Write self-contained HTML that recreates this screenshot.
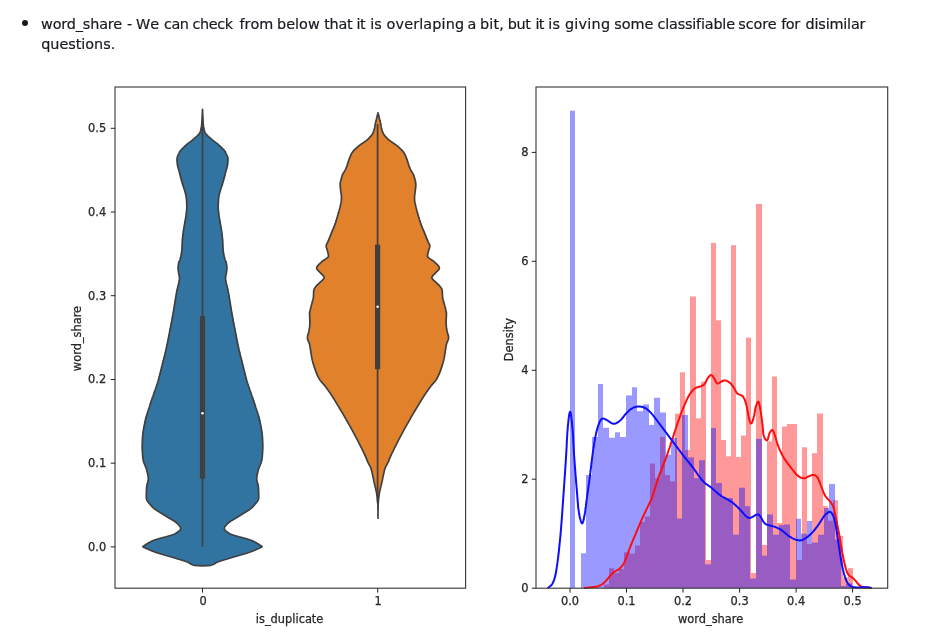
<!DOCTYPE html>
<html lang="en"><head><meta charset="utf-8"><title>word_share</title>
<style>
html,body{margin:0;padding:0;background:#fff;}
body{width:942px;height:639px;position:relative;overflow:hidden;font-family:"DejaVu Sans","Liberation Sans",sans-serif;font-size:14.4px;line-height:20px;color:#171b21;-webkit-text-stroke:0.2px #171b21;}
ul{margin:0;padding:0;list-style:none;position:absolute;left:0;top:0;width:942px;}
li{position:absolute;left:41.8px;top:13.5px;width:880px;height:40px;}
li:before{content:"";position:absolute;left:-19.9px;top:6.7px;width:6px;height:6px;border-radius:50%;background:#171b21;}
.l{position:absolute;left:0;height:20px;width:880px;white-space:nowrap;}
.w{position:absolute;top:0;white-space:nowrap;}
svg text{stroke:#262626;stroke-width:0.25px;}
</style></head><body>
<ul><li><div class="l" style="top:0"><span class="w" id="w0" style="left:-0.80px;letter-spacing:-0.144px">word_share</span> <span class="w" id="w1" style="left:85.20px;letter-spacing:0.000px">-</span> <span class="w" id="w2" style="left:94.20px;letter-spacing:1.000px">We</span> <span class="w" id="w3" style="left:122.20px;letter-spacing:-0.500px">can</span> <span class="w" id="w4" style="left:150.80px;letter-spacing:-0.400px">check</span> <span class="w" id="w5" style="left:197.60px;letter-spacing:0.167px">from</span> <span class="w" id="w6" style="left:235.20px;letter-spacing:0.050px">below</span> <span class="w" id="w7" style="left:282.40px;letter-spacing:-0.233px">that</span> <span class="w" id="w8" style="left:314.80px;letter-spacing:-0.600px">it</span> <span class="w" id="w9" style="left:328.40px;letter-spacing:0.100px">is</span> <span class="w" id="w10" style="left:344.80px;letter-spacing:0.133px">overlaping</span> <span class="w" id="w11" style="left:425.80px;letter-spacing:0.000px">a</span> <span class="w" id="w12" style="left:438.20px;letter-spacing:0.133px">bit,</span> <span class="w" id="w13" style="left:466.00px;letter-spacing:-0.350px">but</span> <span class="w" id="w14" style="left:493.60px;letter-spacing:-0.600px">it</span> <span class="w" id="w15" style="left:506.40px;letter-spacing:0.200px">is</span> <span class="w" id="w16" style="left:523.20px;letter-spacing:0.240px">giving</span> <span class="w" id="w17" style="left:572.40px;letter-spacing:0.033px">some</span> <span class="w" id="w18" style="left:615.80px;letter-spacing:-0.200px">classifiable</span> <span class="w" id="w19" style="left:696.40px;letter-spacing:-0.050px">score</span> <span class="w" id="w20" style="left:739.40px;letter-spacing:-0.400px">for</span> <span class="w" id="w21" style="left:763.80px;letter-spacing:-0.188px">disimilar</span></div><div class="l" style="top:20px"><span class="w" id="wq" style="left:-0.60px;letter-spacing:-0.022px">questions.</span></div></li></ul>
<svg class="fig" width="942" height="639" viewBox="0 0 942 639" style="position:absolute;left:0;top:0;filter:blur(0.45px);font-family:'DejaVu Sans','Liberation Sans',sans-serif;font-size:11.4px" fill="#262626"><path d="M202.5,109.3 L202.5,110.0 L202.6,110.8 L202.6,111.5 L202.6,112.3 L202.7,113.0 L202.7,113.8 L202.7,114.5 L202.8,115.3 L202.8,116.0 L202.8,116.8 L202.9,117.5 L202.9,118.3 L203.0,119.0 L203.0,119.8 L203.0,120.5 L203.1,121.3 L203.1,122.0 L203.2,122.8 L203.2,123.5 L203.3,124.3 L203.4,125.0 L203.4,125.8 L203.5,126.5 L203.6,127.3 L203.8,128.1 L203.9,128.8 L204.1,129.6 L204.3,130.3 L204.6,131.1 L204.8,131.8 L205.1,132.6 L205.5,133.3 L206.1,134.1 L206.8,134.8 L207.5,135.6 L208.3,136.3 L209.2,137.1 L210.1,137.8 L210.9,138.6 L211.7,139.3 L212.6,140.1 L213.5,140.8 L214.5,141.6 L215.5,142.3 L216.5,143.1 L217.5,143.8 L218.4,144.6 L219.3,145.3 L220.1,146.1 L220.8,146.8 L221.6,147.6 L222.3,148.3 L223.1,149.1 L223.8,149.8 L224.4,150.6 L225.0,151.3 L225.5,152.1 L225.8,152.8 L226.2,153.6 L226.6,154.3 L226.9,155.1 L227.2,155.8 L227.5,156.6 L227.7,157.3 L227.9,158.1 L228.0,158.8 L228.0,159.6 L228.0,160.3 L227.9,161.1 L227.9,161.8 L227.8,162.6 L227.7,163.3 L227.7,164.1 L227.6,164.8 L227.4,165.6 L227.3,166.3 L227.1,167.1 L226.9,167.8 L226.7,168.6 L226.5,169.3 L226.2,170.1 L226.0,170.8 L225.8,171.6 L225.6,172.3 L225.4,173.1 L225.3,173.8 L225.1,174.6 L224.9,175.3 L224.7,176.1 L224.5,176.8 L224.3,177.6 L224.1,178.3 L223.9,179.1 L223.7,179.8 L223.5,180.6 L223.3,181.3 L223.0,182.1 L222.8,182.8 L222.6,183.6 L222.4,184.3 L222.2,185.1 L221.9,185.8 L221.6,186.6 L221.4,187.3 L221.1,188.1 L220.9,188.8 L220.6,189.6 L220.4,190.3 L220.2,191.1 L220.0,191.8 L219.8,192.6 L219.6,193.3 L219.4,194.1 L219.2,194.8 L219.0,195.6 L218.9,196.3 L218.8,197.1 L218.7,197.8 L218.6,198.6 L218.5,199.3 L218.5,200.1 L218.4,200.8 L218.4,201.6 L218.3,202.3 L218.3,203.1 L218.3,203.8 L218.2,204.6 L218.2,205.3 L218.2,206.1 L218.2,206.8 L218.2,207.6 L218.2,208.3 L218.3,209.1 L218.3,209.8 L218.4,210.6 L218.5,211.3 L218.6,212.1 L218.7,212.8 L218.8,213.6 L218.9,214.3 L218.9,215.1 L219.0,215.8 L219.1,216.6 L219.2,217.3 L219.4,218.1 L219.5,218.8 L219.6,219.6 L219.7,220.3 L219.9,221.1 L220.0,221.8 L220.2,222.6 L220.3,223.3 L220.4,224.1 L220.5,224.8 L220.7,225.6 L220.8,226.3 L220.9,227.1 L221.1,227.8 L221.2,228.6 L221.3,229.3 L221.4,230.1 L221.6,230.8 L221.7,231.6 L221.8,232.3 L221.9,233.1 L222.0,233.8 L222.1,234.6 L222.2,235.3 L222.2,236.1 L222.3,236.8 L222.4,237.6 L222.5,238.3 L222.5,239.1 L222.6,239.8 L222.7,240.6 L222.7,241.3 L222.8,242.1 L222.8,242.8 L222.8,243.6 L222.9,244.3 L222.9,245.1 L222.9,245.8 L222.9,246.6 L223.0,247.3 L223.0,248.1 L223.1,248.8 L223.1,249.6 L223.2,250.3 L223.3,251.1 L223.3,251.8 L223.4,252.6 L223.6,253.3 L223.7,254.1 L223.8,254.8 L224.0,255.6 L224.1,256.3 L224.3,257.1 L224.5,257.8 L224.7,258.6 L224.9,259.3 L225.2,260.1 L225.6,260.8 L225.9,261.6 L226.1,262.3 L226.3,263.1 L226.4,263.8 L226.6,264.6 L226.7,265.3 L226.8,266.1 L226.9,266.8 L226.9,267.6 L226.9,268.3 L226.9,269.1 L226.8,269.8 L226.7,270.6 L226.6,271.3 L226.5,272.1 L226.4,272.8 L226.2,273.6 L226.1,274.3 L226.0,275.1 L225.8,275.8 L225.7,276.6 L225.6,277.3 L225.5,278.1 L225.5,278.8 L225.6,279.6 L225.7,280.3 L225.8,281.1 L226.0,281.8 L226.1,282.6 L226.3,283.3 L226.4,284.1 L226.6,284.8 L226.8,285.6 L227.0,286.3 L227.2,287.1 L227.4,287.8 L227.6,288.6 L227.7,289.3 L227.9,290.1 L228.1,290.8 L228.2,291.6 L228.4,292.3 L228.5,293.1 L228.6,293.8 L228.8,294.6 L228.9,295.3 L229.0,296.1 L229.2,296.8 L229.3,297.6 L229.4,298.3 L229.6,299.1 L229.7,299.8 L229.8,300.6 L229.9,301.3 L230.0,302.1 L230.2,302.8 L230.3,303.6 L230.4,304.3 L230.5,305.1 L230.6,305.8 L230.8,306.6 L230.9,307.3 L231.0,308.1 L231.1,308.8 L231.3,309.6 L231.4,310.3 L231.5,311.1 L231.6,311.8 L231.7,312.6 L231.9,313.3 L232.0,314.1 L232.1,314.8 L232.3,315.6 L232.4,316.3 L232.5,317.1 L232.7,317.8 L232.8,318.6 L233.0,319.3 L233.1,320.1 L233.2,320.8 L233.4,321.6 L233.5,322.3 L233.7,323.1 L233.8,323.8 L234.0,324.6 L234.1,325.3 L234.2,326.1 L234.4,326.8 L234.5,327.6 L234.7,328.3 L234.8,329.1 L235.0,329.8 L235.1,330.6 L235.3,331.3 L235.4,332.1 L235.5,332.8 L235.7,333.6 L235.8,334.3 L236.0,335.1 L236.1,335.8 L236.3,336.6 L236.4,337.3 L236.6,338.1 L236.7,338.8 L236.9,339.6 L237.0,340.3 L237.1,341.1 L237.3,341.8 L237.4,342.6 L237.6,343.3 L237.8,344.1 L237.9,344.8 L238.1,345.6 L238.2,346.3 L238.4,347.1 L238.6,347.8 L238.7,348.6 L238.9,349.3 L239.1,350.1 L239.2,350.8 L239.4,351.6 L239.6,352.3 L239.8,353.1 L240.0,353.8 L240.1,354.6 L240.3,355.3 L240.5,356.1 L240.7,356.8 L240.9,357.6 L241.1,358.3 L241.3,359.1 L241.5,359.8 L241.7,360.6 L241.9,361.3 L242.1,362.1 L242.2,362.8 L242.4,363.6 L242.6,364.3 L242.8,365.1 L243.0,365.8 L243.2,366.6 L243.4,367.3 L243.5,368.1 L243.7,368.8 L243.9,369.6 L244.1,370.3 L244.3,371.1 L244.5,371.8 L244.6,372.6 L244.8,373.3 L245.0,374.1 L245.2,374.8 L245.4,375.6 L245.6,376.3 L245.8,377.1 L246.0,377.8 L246.2,378.6 L246.4,379.3 L246.6,380.1 L246.8,380.8 L247.1,381.6 L247.3,382.3 L247.6,383.1 L247.8,383.8 L248.1,384.6 L248.3,385.3 L248.6,386.1 L248.8,386.8 L249.1,387.6 L249.3,388.3 L249.6,389.1 L249.8,389.8 L250.1,390.6 L250.4,391.3 L250.6,392.1 L250.9,392.8 L251.2,393.6 L251.4,394.3 L251.7,395.1 L251.9,395.8 L252.2,396.6 L252.5,397.3 L252.7,398.1 L253.0,398.8 L253.2,399.6 L253.5,400.3 L253.7,401.1 L254.0,401.8 L254.2,402.6 L254.5,403.3 L254.7,404.1 L255.0,404.8 L255.2,405.6 L255.4,406.3 L255.7,407.1 L255.9,407.8 L256.2,408.6 L256.4,409.3 L256.7,410.1 L256.9,410.8 L257.2,411.6 L257.4,412.3 L257.7,413.1 L257.9,413.8 L258.1,414.6 L258.3,415.3 L258.6,416.1 L258.8,416.8 L259.0,417.6 L259.2,418.3 L259.4,419.1 L259.5,419.8 L259.7,420.6 L259.9,421.3 L260.0,422.1 L260.2,422.8 L260.3,423.6 L260.5,424.3 L260.6,425.1 L260.8,425.8 L260.9,426.6 L261.1,427.3 L261.2,428.1 L261.4,428.8 L261.5,429.6 L261.6,430.3 L261.7,431.1 L261.8,431.8 L262.0,432.6 L262.1,433.3 L262.2,434.1 L262.2,434.8 L262.3,435.6 L262.4,436.3 L262.4,437.1 L262.5,437.8 L262.5,438.6 L262.6,439.3 L262.6,440.1 L262.6,440.8 L262.7,441.6 L262.7,442.3 L262.7,443.1 L262.8,443.8 L262.8,444.6 L262.8,445.3 L262.8,446.1 L262.8,446.8 L262.8,447.6 L262.8,448.3 L262.7,449.1 L262.7,449.8 L262.7,450.6 L262.6,451.3 L262.6,452.1 L262.6,452.8 L262.5,453.6 L262.4,454.3 L262.4,455.1 L262.3,455.8 L262.3,456.6 L262.2,457.3 L262.1,458.1 L262.0,458.8 L261.9,459.6 L261.7,460.3 L261.6,461.1 L261.4,461.8 L261.1,462.6 L260.8,463.3 L260.5,464.1 L260.2,464.8 L259.9,465.6 L259.6,466.3 L259.3,467.1 L259.0,467.8 L258.7,468.6 L258.5,469.3 L258.3,470.1 L258.1,470.8 L257.9,471.6 L257.7,472.3 L257.6,473.1 L257.4,473.8 L257.2,474.6 L257.1,475.3 L256.9,476.1 L256.8,476.8 L256.8,477.6 L256.7,478.3 L256.7,479.1 L256.8,479.8 L256.9,480.6 L257.0,481.3 L257.2,482.1 L257.4,482.8 L257.6,483.6 L257.8,484.3 L258.0,485.1 L258.2,485.8 L258.3,486.6 L258.4,487.3 L258.5,488.1 L258.5,488.8 L258.5,489.6 L258.6,490.3 L258.6,491.1 L258.6,491.8 L258.6,492.6 L258.7,493.3 L258.7,494.1 L258.7,494.8 L258.7,495.6 L258.7,496.3 L258.7,497.1 L258.7,497.8 L258.6,498.6 L258.4,499.3 L258.1,500.1 L257.7,500.8 L257.2,501.6 L256.7,502.3 L256.1,503.1 L255.4,503.8 L254.8,504.6 L254.1,505.3 L253.4,506.1 L252.7,506.8 L252.0,507.6 L251.1,508.3 L250.2,509.1 L249.2,509.8 L248.1,510.6 L246.9,511.3 L245.7,512.0 L244.5,512.8 L243.3,513.5 L242.1,514.3 L240.8,515.0 L239.7,515.8 L238.5,516.5 L237.3,517.3 L236.1,518.0 L234.8,518.8 L233.4,519.5 L232.2,520.3 L230.9,521.0 L229.8,521.8 L228.8,522.5 L227.9,523.3 L227.2,524.0 L226.5,524.8 L225.8,525.5 L225.2,526.3 L224.7,527.0 L224.4,527.8 L224.3,528.5 L224.5,529.3 L225.0,530.0 L225.7,530.8 L226.6,531.5 L227.5,532.3 L228.6,533.0 L229.8,533.8 L231.6,534.5 L233.8,535.3 L236.3,536.0 L239.1,536.8 L241.9,537.5 L244.7,538.3 L247.3,539.0 L249.7,539.8 L251.7,540.5 L253.4,541.3 L254.8,542.0 L256.2,542.8 L257.4,543.5 L258.6,544.3 L259.7,545.0 L260.9,545.8 L262.0,546.5 L261.6,547.3 L259.7,548.0 L258.0,548.8 L256.4,549.5 L254.7,550.3 L252.9,551.0 L250.9,551.8 L248.8,552.5 L246.6,553.3 L244.1,554.0 L241.5,554.8 L238.9,555.5 L236.3,556.3 L233.7,557.0 L231.3,557.8 L228.8,558.5 L226.3,559.3 L223.7,560.0 L221.3,560.8 L219.1,561.5 L217.0,562.3 L215.6,563.0 L214.6,563.8 L213.3,564.5 L210.9,565.3 L202.5,565.9 L202.5,565.9 L194.1,565.3 L191.7,564.5 L190.4,563.8 L189.4,563.0 L188.0,562.3 L185.9,561.5 L183.7,560.8 L181.3,560.0 L178.7,559.3 L176.2,558.5 L173.7,557.8 L171.3,557.0 L168.7,556.3 L166.1,555.5 L163.5,554.8 L160.9,554.0 L158.4,553.3 L156.2,552.5 L154.1,551.8 L152.1,551.0 L150.3,550.3 L148.6,549.5 L147.0,548.8 L145.3,548.0 L143.4,547.3 L143.0,546.5 L144.1,545.8 L145.3,545.0 L146.4,544.3 L147.6,543.5 L148.8,542.8 L150.2,542.0 L151.6,541.3 L153.3,540.5 L155.3,539.8 L157.7,539.0 L160.3,538.3 L163.1,537.5 L165.9,536.8 L168.7,536.0 L171.2,535.3 L173.4,534.5 L175.2,533.8 L176.4,533.0 L177.5,532.3 L178.4,531.5 L179.3,530.8 L180.0,530.0 L180.5,529.3 L180.7,528.5 L180.6,527.8 L180.3,527.0 L179.8,526.3 L179.2,525.5 L178.5,524.8 L177.8,524.0 L177.1,523.3 L176.2,522.5 L175.2,521.8 L174.1,521.0 L172.8,520.3 L171.6,519.5 L170.2,518.8 L168.9,518.0 L167.7,517.3 L166.5,516.5 L165.3,515.8 L164.2,515.0 L162.9,514.3 L161.7,513.5 L160.5,512.8 L159.3,512.0 L158.1,511.3 L156.9,510.6 L155.8,509.8 L154.8,509.1 L153.9,508.3 L153.0,507.6 L152.3,506.8 L151.6,506.1 L150.9,505.3 L150.2,504.6 L149.6,503.8 L148.9,503.1 L148.3,502.3 L147.8,501.6 L147.3,500.8 L146.9,500.1 L146.6,499.3 L146.4,498.6 L146.3,497.8 L146.3,497.1 L146.3,496.3 L146.3,495.6 L146.3,494.8 L146.3,494.1 L146.3,493.3 L146.4,492.6 L146.4,491.8 L146.4,491.1 L146.4,490.3 L146.5,489.6 L146.5,488.8 L146.5,488.1 L146.6,487.3 L146.7,486.6 L146.8,485.8 L147.0,485.1 L147.2,484.3 L147.4,483.6 L147.6,482.8 L147.8,482.1 L148.0,481.3 L148.1,480.6 L148.2,479.8 L148.3,479.1 L148.3,478.3 L148.2,477.6 L148.2,476.8 L148.1,476.1 L147.9,475.3 L147.8,474.6 L147.6,473.8 L147.4,473.1 L147.3,472.3 L147.1,471.6 L146.9,470.8 L146.7,470.1 L146.5,469.3 L146.3,468.6 L146.0,467.8 L145.7,467.1 L145.4,466.3 L145.1,465.6 L144.8,464.8 L144.5,464.1 L144.2,463.3 L143.9,462.6 L143.6,461.8 L143.4,461.1 L143.3,460.3 L143.1,459.6 L143.0,458.8 L142.9,458.1 L142.8,457.3 L142.7,456.6 L142.7,455.8 L142.6,455.1 L142.6,454.3 L142.5,453.6 L142.4,452.8 L142.4,452.1 L142.4,451.3 L142.3,450.6 L142.3,449.8 L142.3,449.1 L142.2,448.3 L142.2,447.6 L142.2,446.8 L142.2,446.1 L142.2,445.3 L142.2,444.6 L142.2,443.8 L142.3,443.1 L142.3,442.3 L142.3,441.6 L142.4,440.8 L142.4,440.1 L142.4,439.3 L142.5,438.6 L142.5,437.8 L142.6,437.1 L142.6,436.3 L142.7,435.6 L142.8,434.8 L142.8,434.1 L142.9,433.3 L143.0,432.6 L143.2,431.8 L143.3,431.1 L143.4,430.3 L143.5,429.6 L143.6,428.8 L143.8,428.1 L143.9,427.3 L144.1,426.6 L144.2,425.8 L144.4,425.1 L144.5,424.3 L144.7,423.6 L144.8,422.8 L145.0,422.1 L145.1,421.3 L145.3,420.6 L145.5,419.8 L145.6,419.1 L145.8,418.3 L146.0,417.6 L146.2,416.8 L146.4,416.1 L146.7,415.3 L146.9,414.6 L147.1,413.8 L147.3,413.1 L147.6,412.3 L147.8,411.6 L148.1,410.8 L148.3,410.1 L148.6,409.3 L148.8,408.6 L149.1,407.8 L149.3,407.1 L149.6,406.3 L149.8,405.6 L150.0,404.8 L150.3,404.1 L150.5,403.3 L150.8,402.6 L151.0,401.8 L151.3,401.1 L151.5,400.3 L151.8,399.6 L152.0,398.8 L152.3,398.1 L152.5,397.3 L152.8,396.6 L153.1,395.8 L153.3,395.1 L153.6,394.3 L153.8,393.6 L154.1,392.8 L154.4,392.1 L154.6,391.3 L154.9,390.6 L155.2,389.8 L155.4,389.1 L155.7,388.3 L155.9,387.6 L156.2,386.8 L156.4,386.1 L156.7,385.3 L156.9,384.6 L157.2,383.8 L157.4,383.1 L157.7,382.3 L157.9,381.6 L158.2,380.8 L158.4,380.1 L158.6,379.3 L158.8,378.6 L159.0,377.8 L159.2,377.1 L159.4,376.3 L159.6,375.6 L159.8,374.8 L160.0,374.1 L160.2,373.3 L160.4,372.6 L160.5,371.8 L160.7,371.1 L160.9,370.3 L161.1,369.6 L161.3,368.8 L161.5,368.1 L161.6,367.3 L161.8,366.6 L162.0,365.8 L162.2,365.1 L162.4,364.3 L162.6,363.6 L162.8,362.8 L162.9,362.1 L163.1,361.3 L163.3,360.6 L163.5,359.8 L163.7,359.1 L163.9,358.3 L164.1,357.6 L164.3,356.8 L164.5,356.1 L164.7,355.3 L164.9,354.6 L165.0,353.8 L165.2,353.1 L165.4,352.3 L165.6,351.6 L165.8,350.8 L165.9,350.1 L166.1,349.3 L166.3,348.6 L166.4,347.8 L166.6,347.1 L166.8,346.3 L166.9,345.6 L167.1,344.8 L167.2,344.1 L167.4,343.3 L167.6,342.6 L167.7,341.8 L167.9,341.1 L168.0,340.3 L168.1,339.6 L168.3,338.8 L168.4,338.1 L168.6,337.3 L168.7,336.6 L168.9,335.8 L169.0,335.1 L169.2,334.3 L169.3,333.6 L169.5,332.8 L169.6,332.1 L169.7,331.3 L169.9,330.6 L170.0,329.8 L170.2,329.1 L170.3,328.3 L170.5,327.6 L170.6,326.8 L170.8,326.1 L170.9,325.3 L171.0,324.6 L171.2,323.8 L171.3,323.1 L171.5,322.3 L171.6,321.6 L171.8,320.8 L171.9,320.1 L172.0,319.3 L172.2,318.6 L172.3,317.8 L172.5,317.1 L172.6,316.3 L172.7,315.6 L172.9,314.8 L173.0,314.1 L173.1,313.3 L173.3,312.6 L173.4,311.8 L173.5,311.1 L173.6,310.3 L173.7,309.6 L173.9,308.8 L174.0,308.1 L174.1,307.3 L174.2,306.6 L174.4,305.8 L174.5,305.1 L174.6,304.3 L174.7,303.6 L174.8,302.8 L175.0,302.1 L175.1,301.3 L175.2,300.6 L175.3,299.8 L175.4,299.1 L175.6,298.3 L175.7,297.6 L175.8,296.8 L176.0,296.1 L176.1,295.3 L176.2,294.6 L176.4,293.8 L176.5,293.1 L176.6,292.3 L176.8,291.6 L176.9,290.8 L177.1,290.1 L177.3,289.3 L177.4,288.6 L177.6,287.8 L177.8,287.1 L178.0,286.3 L178.2,285.6 L178.4,284.8 L178.6,284.1 L178.7,283.3 L178.9,282.6 L179.0,281.8 L179.2,281.1 L179.3,280.3 L179.4,279.6 L179.5,278.8 L179.5,278.1 L179.4,277.3 L179.3,276.6 L179.2,275.8 L179.0,275.1 L178.9,274.3 L178.8,273.6 L178.6,272.8 L178.5,272.1 L178.4,271.3 L178.3,270.6 L178.2,269.8 L178.1,269.1 L178.1,268.3 L178.1,267.6 L178.1,266.8 L178.2,266.1 L178.3,265.3 L178.4,264.6 L178.6,263.8 L178.7,263.1 L178.9,262.3 L179.1,261.6 L179.4,260.8 L179.8,260.1 L180.1,259.3 L180.3,258.6 L180.5,257.8 L180.7,257.1 L180.9,256.3 L181.0,255.6 L181.2,254.8 L181.3,254.1 L181.4,253.3 L181.6,252.6 L181.7,251.8 L181.7,251.1 L181.8,250.3 L181.9,249.6 L181.9,248.8 L182.0,248.1 L182.0,247.3 L182.1,246.6 L182.1,245.8 L182.1,245.1 L182.1,244.3 L182.2,243.6 L182.2,242.8 L182.2,242.1 L182.3,241.3 L182.3,240.6 L182.4,239.8 L182.5,239.1 L182.5,238.3 L182.6,237.6 L182.7,236.8 L182.8,236.1 L182.8,235.3 L182.9,234.6 L183.0,233.8 L183.1,233.1 L183.2,232.3 L183.3,231.6 L183.4,230.8 L183.6,230.1 L183.7,229.3 L183.8,228.6 L183.9,227.8 L184.1,227.1 L184.2,226.3 L184.3,225.6 L184.5,224.8 L184.6,224.1 L184.7,223.3 L184.8,222.6 L185.0,221.8 L185.1,221.1 L185.3,220.3 L185.4,219.6 L185.5,218.8 L185.6,218.1 L185.8,217.3 L185.9,216.6 L186.0,215.8 L186.1,215.1 L186.1,214.3 L186.2,213.6 L186.3,212.8 L186.4,212.1 L186.5,211.3 L186.6,210.6 L186.7,209.8 L186.7,209.1 L186.8,208.3 L186.8,207.6 L186.8,206.8 L186.8,206.1 L186.8,205.3 L186.8,204.6 L186.7,203.8 L186.7,203.1 L186.7,202.3 L186.6,201.6 L186.6,200.8 L186.5,200.1 L186.5,199.3 L186.4,198.6 L186.3,197.8 L186.2,197.1 L186.1,196.3 L186.0,195.6 L185.8,194.8 L185.6,194.1 L185.4,193.3 L185.2,192.6 L185.0,191.8 L184.8,191.1 L184.6,190.3 L184.4,189.6 L184.1,188.8 L183.9,188.1 L183.6,187.3 L183.4,186.6 L183.1,185.8 L182.8,185.1 L182.6,184.3 L182.4,183.6 L182.2,182.8 L182.0,182.1 L181.7,181.3 L181.5,180.6 L181.3,179.8 L181.1,179.1 L180.9,178.3 L180.7,177.6 L180.5,176.8 L180.3,176.1 L180.1,175.3 L179.9,174.6 L179.7,173.8 L179.6,173.1 L179.4,172.3 L179.2,171.6 L179.0,170.8 L178.8,170.1 L178.5,169.3 L178.3,168.6 L178.1,167.8 L177.9,167.1 L177.7,166.3 L177.6,165.6 L177.4,164.8 L177.3,164.1 L177.3,163.3 L177.2,162.6 L177.1,161.8 L177.1,161.1 L177.0,160.3 L177.0,159.6 L177.0,158.8 L177.1,158.1 L177.3,157.3 L177.5,156.6 L177.8,155.8 L178.1,155.1 L178.4,154.3 L178.8,153.6 L179.2,152.8 L179.5,152.1 L180.0,151.3 L180.6,150.6 L181.2,149.8 L181.9,149.1 L182.7,148.3 L183.4,147.6 L184.2,146.8 L184.9,146.1 L185.7,145.3 L186.6,144.6 L187.5,143.8 L188.5,143.1 L189.5,142.3 L190.5,141.6 L191.5,140.8 L192.4,140.1 L193.3,139.3 L194.1,138.6 L194.9,137.8 L195.8,137.1 L196.7,136.3 L197.5,135.6 L198.2,134.8 L198.9,134.1 L199.5,133.3 L199.9,132.6 L200.2,131.8 L200.4,131.1 L200.7,130.3 L200.9,129.6 L201.1,128.8 L201.2,128.1 L201.4,127.3 L201.5,126.5 L201.6,125.8 L201.6,125.0 L201.7,124.3 L201.8,123.5 L201.8,122.8 L201.9,122.0 L201.9,121.3 L202.0,120.5 L202.0,119.8 L202.0,119.0 L202.1,118.3 L202.1,117.5 L202.2,116.8 L202.2,116.0 L202.2,115.3 L202.3,114.5 L202.3,113.8 L202.3,113.0 L202.4,112.3 L202.4,111.5 L202.4,110.8 L202.5,110.0 L202.5,109.3Z" fill="#3274a1" stroke="#3f3f3f" stroke-width="1.7" stroke-linejoin="round"/><path d="M378.0,112.7 L378.2,113.5 L378.4,114.2 L378.6,115.0 L378.8,115.7 L378.9,116.5 L379.1,117.2 L379.3,118.0 L379.5,118.7 L379.7,119.5 L379.9,120.2 L380.0,121.0 L380.2,121.7 L380.4,122.5 L380.6,123.2 L380.7,124.0 L380.9,124.7 L381.0,125.5 L381.1,126.2 L381.3,127.0 L381.4,127.7 L381.6,128.4 L381.8,129.2 L382.0,129.9 L382.2,130.7 L382.4,131.4 L382.7,132.2 L383.0,132.9 L383.4,133.7 L383.9,134.4 L384.4,135.2 L385.0,135.9 L385.6,136.7 L386.3,137.4 L387.0,138.2 L387.8,138.9 L388.5,139.7 L389.5,140.4 L390.5,141.2 L391.6,141.9 L392.7,142.7 L393.8,143.4 L394.9,144.2 L395.9,144.9 L396.9,145.7 L397.7,146.4 L398.6,147.2 L399.5,147.9 L400.3,148.7 L401.1,149.4 L401.9,150.2 L402.6,150.9 L403.2,151.7 L403.7,152.4 L404.2,153.2 L404.6,153.9 L405.0,154.7 L405.3,155.4 L405.7,156.2 L406.0,156.9 L406.3,157.7 L406.5,158.4 L406.8,159.2 L407.1,159.9 L407.4,160.7 L407.6,161.4 L407.9,162.2 L408.1,162.9 L408.3,163.7 L408.6,164.4 L408.8,165.2 L409.0,165.9 L409.3,166.7 L409.6,167.4 L409.9,168.2 L410.2,168.9 L410.6,169.7 L411.0,170.4 L411.5,171.2 L411.9,171.9 L412.4,172.7 L412.8,173.4 L413.2,174.2 L413.6,174.9 L413.9,175.7 L414.1,176.4 L414.3,177.2 L414.5,177.9 L414.8,178.7 L415.0,179.4 L415.1,180.2 L415.3,180.9 L415.5,181.7 L415.6,182.4 L415.7,183.2 L415.8,183.9 L415.8,184.7 L415.8,185.4 L415.8,186.2 L415.7,186.9 L415.6,187.7 L415.6,188.4 L415.5,189.2 L415.4,189.9 L415.3,190.7 L415.2,191.4 L415.1,192.2 L415.0,192.9 L414.9,193.7 L414.8,194.4 L414.7,195.2 L414.6,195.9 L414.6,196.7 L414.5,197.4 L414.5,198.2 L414.5,198.9 L414.6,199.7 L414.6,200.4 L414.7,201.2 L414.9,201.9 L415.0,202.7 L415.2,203.4 L415.3,204.2 L415.5,204.9 L415.7,205.7 L415.9,206.4 L416.0,207.2 L416.2,207.9 L416.4,208.7 L416.6,209.4 L416.8,210.2 L417.0,210.9 L417.2,211.7 L417.4,212.4 L417.6,213.2 L417.9,213.9 L418.1,214.7 L418.3,215.4 L418.5,216.2 L418.7,216.9 L418.9,217.7 L419.2,218.4 L419.4,219.2 L419.6,219.9 L419.8,220.7 L420.1,221.4 L420.3,222.2 L420.5,222.9 L420.8,223.7 L421.1,224.4 L421.3,225.2 L421.6,225.9 L421.9,226.7 L422.2,227.4 L422.5,228.2 L422.8,228.9 L423.1,229.7 L423.5,230.4 L423.8,231.2 L424.1,231.9 L424.4,232.7 L424.7,233.4 L425.0,234.2 L425.3,234.9 L425.6,235.7 L425.9,236.4 L426.2,237.2 L426.5,237.9 L426.8,238.7 L427.1,239.4 L427.4,240.2 L427.7,240.9 L428.0,241.7 L428.4,242.4 L428.8,243.2 L429.2,243.9 L429.6,244.7 L429.8,245.4 L429.8,246.2 L429.7,246.9 L429.5,247.7 L429.3,248.4 L429.0,249.2 L428.8,249.9 L428.6,250.7 L428.4,251.4 L428.2,252.2 L428.0,252.9 L427.8,253.7 L427.7,254.4 L427.6,255.2 L427.5,255.9 L427.6,256.7 L428.2,257.4 L429.1,258.2 L430.2,258.9 L431.4,259.7 L432.6,260.4 L433.5,261.2 L434.3,261.9 L435.1,262.7 L436.0,263.4 L436.8,264.2 L437.6,264.9 L438.3,265.7 L438.8,266.4 L439.2,267.2 L439.4,267.9 L439.3,268.7 L438.9,269.4 L438.3,270.2 L437.5,270.9 L436.8,271.7 L436.0,272.4 L435.3,273.2 L434.6,273.9 L433.8,274.7 L433.1,275.4 L432.4,276.2 L432.0,276.9 L431.9,277.7 L432.1,278.4 L432.6,279.2 L433.3,279.9 L434.0,280.7 L434.9,281.4 L435.8,282.2 L436.6,282.9 L437.3,283.7 L438.1,284.4 L438.9,285.2 L439.6,285.9 L440.3,286.7 L440.8,287.4 L441.3,288.2 L441.8,288.9 L442.1,289.7 L442.2,290.4 L442.3,291.2 L442.3,291.9 L442.4,292.7 L442.4,293.4 L442.4,294.2 L442.5,294.9 L442.5,295.7 L442.6,296.4 L442.6,297.2 L442.7,297.9 L442.9,298.7 L443.0,299.4 L443.2,300.2 L443.4,300.9 L443.6,301.7 L443.9,302.4 L444.1,303.2 L444.3,303.9 L444.5,304.7 L444.7,305.4 L444.9,306.2 L445.1,306.9 L445.2,307.7 L445.5,308.4 L445.6,309.2 L445.8,309.9 L446.0,310.7 L446.2,311.4 L446.3,312.2 L446.4,312.9 L446.4,313.7 L446.4,314.4 L446.4,315.2 L446.4,315.9 L446.3,316.7 L446.3,317.4 L446.3,318.2 L446.2,318.9 L446.2,319.7 L446.1,320.4 L446.1,321.2 L446.1,321.9 L446.1,322.7 L446.1,323.4 L446.2,324.2 L446.2,324.9 L446.3,325.7 L446.4,326.4 L446.4,327.2 L446.5,327.9 L446.7,328.7 L446.8,329.4 L446.9,330.2 L447.0,330.9 L447.1,331.7 L447.3,332.4 L447.6,333.2 L447.8,333.9 L448.0,334.7 L448.3,335.4 L448.4,336.2 L448.6,336.9 L448.6,337.7 L448.5,338.4 L448.4,339.2 L448.1,339.9 L447.9,340.7 L447.5,341.4 L447.2,342.2 L446.9,342.9 L446.6,343.7 L446.4,344.4 L446.3,345.2 L446.1,345.9 L446.0,346.7 L445.9,347.4 L445.8,348.2 L445.7,348.9 L445.5,349.7 L445.4,350.4 L445.3,351.2 L445.2,351.9 L445.1,352.7 L444.9,353.4 L444.8,354.2 L444.7,354.9 L444.6,355.7 L444.5,356.4 L444.3,357.2 L444.2,357.9 L444.0,358.7 L443.9,359.4 L443.7,360.2 L443.5,360.9 L443.3,361.7 L443.1,362.4 L442.9,363.2 L442.7,363.9 L442.5,364.7 L442.2,365.4 L442.0,366.2 L441.8,366.9 L441.5,367.7 L441.2,368.4 L441.0,369.2 L440.7,369.9 L440.5,370.7 L440.2,371.4 L439.9,372.2 L439.6,372.9 L439.3,373.7 L439.0,374.4 L438.7,375.2 L438.3,375.9 L437.9,376.7 L437.6,377.4 L437.2,378.2 L436.7,378.9 L436.2,379.7 L435.7,380.4 L435.1,381.2 L434.5,381.9 L433.8,382.7 L433.2,383.4 L432.5,384.2 L431.9,384.9 L431.2,385.7 L430.6,386.4 L430.1,387.2 L429.5,387.9 L429.0,388.7 L428.4,389.4 L427.9,390.2 L427.4,390.9 L426.8,391.7 L426.3,392.4 L425.8,393.2 L425.3,393.9 L424.8,394.7 L424.3,395.4 L423.8,396.2 L423.4,396.9 L422.9,397.7 L422.4,398.4 L421.9,399.2 L421.5,399.9 L421.0,400.7 L420.6,401.4 L420.1,402.2 L419.6,402.9 L419.2,403.7 L418.7,404.4 L418.3,405.2 L417.8,405.9 L417.4,406.7 L416.9,407.4 L416.5,408.2 L416.0,408.9 L415.6,409.7 L415.1,410.4 L414.7,411.2 L414.2,411.9 L413.8,412.7 L413.3,413.4 L412.9,414.2 L412.5,414.9 L412.0,415.7 L411.6,416.4 L411.2,417.2 L410.7,417.9 L410.3,418.7 L409.9,419.4 L409.5,420.2 L409.0,420.9 L408.6,421.7 L408.2,422.4 L407.8,423.2 L407.3,423.9 L406.9,424.7 L406.5,425.4 L406.1,426.2 L405.7,426.9 L405.2,427.7 L404.8,428.4 L404.4,429.2 L404.0,429.9 L403.6,430.7 L403.2,431.4 L402.8,432.2 L402.4,432.9 L402.0,433.7 L401.6,434.4 L401.2,435.2 L400.8,435.9 L400.4,436.7 L400.0,437.4 L399.6,438.2 L399.2,438.9 L398.8,439.7 L398.4,440.4 L398.0,441.2 L397.7,441.9 L397.3,442.7 L396.9,443.4 L396.5,444.2 L396.1,444.9 L395.8,445.7 L395.4,446.4 L395.0,447.2 L394.6,447.9 L394.2,448.7 L393.9,449.4 L393.5,450.2 L393.1,450.9 L392.8,451.7 L392.4,452.4 L392.0,453.2 L391.7,453.9 L391.3,454.7 L391.0,455.4 L390.7,456.2 L390.3,456.9 L390.0,457.7 L389.7,458.4 L389.4,459.2 L389.1,459.9 L388.8,460.7 L388.5,461.4 L388.1,462.2 L387.8,462.9 L387.4,463.7 L387.0,464.4 L386.6,465.2 L386.2,465.9 L385.8,466.7 L385.4,467.4 L385.1,468.2 L384.9,468.9 L384.6,469.7 L384.4,470.4 L384.2,471.2 L384.1,471.9 L383.9,472.7 L383.7,473.4 L383.6,474.2 L383.4,474.9 L383.2,475.7 L383.1,476.4 L382.9,477.2 L382.8,477.9 L382.6,478.7 L382.5,479.4 L382.3,480.2 L382.2,480.9 L382.0,481.7 L381.8,482.4 L381.7,483.2 L381.5,483.9 L381.3,484.7 L381.1,485.4 L380.9,486.2 L380.7,486.9 L380.6,487.7 L380.4,488.4 L380.2,489.2 L380.1,489.9 L379.9,490.7 L379.7,491.4 L379.6,492.2 L379.4,492.9 L379.3,493.7 L379.2,494.4 L379.1,495.2 L379.0,495.9 L378.9,496.7 L378.8,497.4 L378.7,498.2 L378.6,498.9 L378.5,499.7 L378.5,500.4 L378.4,501.2 L378.3,501.9 L378.3,502.7 L378.2,503.4 L378.2,504.2 L378.1,504.9 L378.1,505.7 L378.1,506.4 L378.1,507.2 L378.1,507.9 L378.1,508.7 L378.1,509.4 L378.0,510.2 L378.0,510.9 L378.0,511.7 L378.0,512.5 L378.0,513.2 L378.0,514.0 L378.0,514.7 L378.0,515.5 L378.0,516.2 L378.0,517.0 L378.0,517.7 L378.0,518.2 L378.0,518.2 L378.0,517.7 L378.0,517.0 L378.0,516.2 L378.0,515.5 L378.0,514.7 L378.0,514.0 L378.0,513.2 L378.0,512.5 L378.0,511.7 L378.0,510.9 L378.0,510.2 L377.9,509.4 L377.9,508.7 L377.9,507.9 L377.9,507.2 L377.9,506.4 L377.9,505.7 L377.9,504.9 L377.8,504.2 L377.8,503.4 L377.7,502.7 L377.7,501.9 L377.6,501.2 L377.5,500.4 L377.5,499.7 L377.4,498.9 L377.3,498.2 L377.2,497.4 L377.1,496.7 L377.0,495.9 L376.9,495.2 L376.8,494.4 L376.7,493.7 L376.6,492.9 L376.4,492.2 L376.3,491.4 L376.1,490.7 L375.9,489.9 L375.8,489.2 L375.6,488.4 L375.4,487.7 L375.3,486.9 L375.1,486.2 L374.9,485.4 L374.7,484.7 L374.5,483.9 L374.3,483.2 L374.2,482.4 L374.0,481.7 L373.8,480.9 L373.7,480.2 L373.5,479.4 L373.4,478.7 L373.2,477.9 L373.1,477.2 L372.9,476.4 L372.8,475.7 L372.6,474.9 L372.4,474.2 L372.3,473.4 L372.1,472.7 L371.9,471.9 L371.8,471.2 L371.6,470.4 L371.4,469.7 L371.1,468.9 L370.9,468.2 L370.6,467.4 L370.2,466.7 L369.8,465.9 L369.4,465.2 L369.0,464.4 L368.6,463.7 L368.2,462.9 L367.9,462.2 L367.5,461.4 L367.2,460.7 L366.9,459.9 L366.6,459.2 L366.3,458.4 L366.0,457.7 L365.7,456.9 L365.3,456.2 L365.0,455.4 L364.7,454.7 L364.3,453.9 L364.0,453.2 L363.6,452.4 L363.2,451.7 L362.9,450.9 L362.5,450.2 L362.1,449.4 L361.8,448.7 L361.4,447.9 L361.0,447.2 L360.6,446.4 L360.2,445.7 L359.9,444.9 L359.5,444.2 L359.1,443.4 L358.7,442.7 L358.3,441.9 L358.0,441.2 L357.6,440.4 L357.2,439.7 L356.8,438.9 L356.4,438.2 L356.0,437.4 L355.6,436.7 L355.2,435.9 L354.8,435.2 L354.4,434.4 L354.0,433.7 L353.6,432.9 L353.2,432.2 L352.8,431.4 L352.4,430.7 L352.0,429.9 L351.6,429.2 L351.2,428.4 L350.8,427.7 L350.3,426.9 L349.9,426.2 L349.5,425.4 L349.1,424.7 L348.7,423.9 L348.2,423.2 L347.8,422.4 L347.4,421.7 L347.0,420.9 L346.5,420.2 L346.1,419.4 L345.7,418.7 L345.3,417.9 L344.8,417.2 L344.4,416.4 L344.0,415.7 L343.5,414.9 L343.1,414.2 L342.7,413.4 L342.2,412.7 L341.8,411.9 L341.3,411.2 L340.9,410.4 L340.4,409.7 L340.0,408.9 L339.5,408.2 L339.1,407.4 L338.6,406.7 L338.2,405.9 L337.7,405.2 L337.3,404.4 L336.8,403.7 L336.4,402.9 L335.9,402.2 L335.4,401.4 L335.0,400.7 L334.5,399.9 L334.1,399.2 L333.6,398.4 L333.1,397.7 L332.6,396.9 L332.2,396.2 L331.7,395.4 L331.2,394.7 L330.7,393.9 L330.2,393.2 L329.7,392.4 L329.2,391.7 L328.6,390.9 L328.1,390.2 L327.6,389.4 L327.0,388.7 L326.5,387.9 L325.9,387.2 L325.4,386.4 L324.8,385.7 L324.1,384.9 L323.5,384.2 L322.8,383.4 L322.2,382.7 L321.5,381.9 L320.9,381.2 L320.3,380.4 L319.8,379.7 L319.3,378.9 L318.8,378.2 L318.4,377.4 L318.1,376.7 L317.7,375.9 L317.3,375.2 L317.0,374.4 L316.7,373.7 L316.4,372.9 L316.1,372.2 L315.8,371.4 L315.5,370.7 L315.3,369.9 L315.0,369.2 L314.8,368.4 L314.5,367.7 L314.2,366.9 L314.0,366.2 L313.8,365.4 L313.5,364.7 L313.3,363.9 L313.1,363.2 L312.9,362.4 L312.7,361.7 L312.5,360.9 L312.3,360.2 L312.1,359.4 L312.0,358.7 L311.8,357.9 L311.7,357.2 L311.5,356.4 L311.4,355.7 L311.3,354.9 L311.2,354.2 L311.1,353.4 L310.9,352.7 L310.8,351.9 L310.7,351.2 L310.6,350.4 L310.5,349.7 L310.3,348.9 L310.2,348.2 L310.1,347.4 L310.0,346.7 L309.9,345.9 L309.7,345.2 L309.6,344.4 L309.4,343.7 L309.1,342.9 L308.8,342.2 L308.5,341.4 L308.1,340.7 L307.9,339.9 L307.6,339.2 L307.5,338.4 L307.4,337.7 L307.4,336.9 L307.6,336.2 L307.7,335.4 L308.0,334.7 L308.2,333.9 L308.4,333.2 L308.7,332.4 L308.9,331.7 L309.0,330.9 L309.1,330.2 L309.2,329.4 L309.3,328.7 L309.5,327.9 L309.6,327.2 L309.6,326.4 L309.7,325.7 L309.8,324.9 L309.8,324.2 L309.9,323.4 L309.9,322.7 L309.9,321.9 L309.9,321.2 L309.9,320.4 L309.8,319.7 L309.8,318.9 L309.7,318.2 L309.7,317.4 L309.7,316.7 L309.6,315.9 L309.6,315.2 L309.6,314.4 L309.6,313.7 L309.6,312.9 L309.7,312.2 L309.8,311.4 L310.0,310.7 L310.2,309.9 L310.4,309.2 L310.5,308.4 L310.8,307.7 L310.9,306.9 L311.1,306.2 L311.3,305.4 L311.5,304.7 L311.7,303.9 L311.9,303.2 L312.1,302.4 L312.4,301.7 L312.6,300.9 L312.8,300.2 L313.0,299.4 L313.1,298.7 L313.3,297.9 L313.4,297.2 L313.4,296.4 L313.5,295.7 L313.5,294.9 L313.6,294.2 L313.6,293.4 L313.6,292.7 L313.7,291.9 L313.7,291.2 L313.8,290.4 L313.9,289.7 L314.2,288.9 L314.7,288.2 L315.2,287.4 L315.7,286.7 L316.4,285.9 L317.1,285.2 L317.9,284.4 L318.7,283.7 L319.4,282.9 L320.2,282.2 L321.1,281.4 L322.0,280.7 L322.7,279.9 L323.4,279.2 L323.9,278.4 L324.1,277.7 L324.0,276.9 L323.6,276.2 L322.9,275.4 L322.2,274.7 L321.4,273.9 L320.7,273.2 L320.0,272.4 L319.2,271.7 L318.5,270.9 L317.7,270.2 L317.1,269.4 L316.7,268.7 L316.6,267.9 L316.8,267.2 L317.2,266.4 L317.7,265.7 L318.4,264.9 L319.2,264.2 L320.0,263.4 L320.9,262.7 L321.7,261.9 L322.5,261.2 L323.4,260.4 L324.6,259.7 L325.8,258.9 L326.9,258.2 L327.8,257.4 L328.4,256.7 L328.5,255.9 L328.4,255.2 L328.3,254.4 L328.2,253.7 L328.0,252.9 L327.8,252.2 L327.6,251.4 L327.4,250.7 L327.2,249.9 L327.0,249.2 L326.7,248.4 L326.5,247.7 L326.3,246.9 L326.2,246.2 L326.2,245.4 L326.4,244.7 L326.8,243.9 L327.2,243.2 L327.6,242.4 L328.0,241.7 L328.3,240.9 L328.6,240.2 L328.9,239.4 L329.2,238.7 L329.5,237.9 L329.8,237.2 L330.1,236.4 L330.4,235.7 L330.7,234.9 L331.0,234.2 L331.3,233.4 L331.6,232.7 L331.9,231.9 L332.2,231.2 L332.5,230.4 L332.9,229.7 L333.2,228.9 L333.5,228.2 L333.8,227.4 L334.1,226.7 L334.4,225.9 L334.7,225.2 L334.9,224.4 L335.2,223.7 L335.5,222.9 L335.7,222.2 L335.9,221.4 L336.2,220.7 L336.4,219.9 L336.6,219.2 L336.8,218.4 L337.1,217.7 L337.3,216.9 L337.5,216.2 L337.7,215.4 L337.9,214.7 L338.1,213.9 L338.4,213.2 L338.6,212.4 L338.8,211.7 L339.0,210.9 L339.2,210.2 L339.4,209.4 L339.6,208.7 L339.8,207.9 L340.0,207.2 L340.1,206.4 L340.3,205.7 L340.5,204.9 L340.7,204.2 L340.8,203.4 L341.0,202.7 L341.1,201.9 L341.3,201.2 L341.4,200.4 L341.4,199.7 L341.5,198.9 L341.5,198.2 L341.5,197.4 L341.4,196.7 L341.4,195.9 L341.3,195.2 L341.2,194.4 L341.1,193.7 L341.0,192.9 L340.9,192.2 L340.8,191.4 L340.7,190.7 L340.6,189.9 L340.5,189.2 L340.4,188.4 L340.4,187.7 L340.3,186.9 L340.2,186.2 L340.2,185.4 L340.2,184.7 L340.2,183.9 L340.3,183.2 L340.4,182.4 L340.5,181.7 L340.7,180.9 L340.9,180.2 L341.0,179.4 L341.2,178.7 L341.5,177.9 L341.7,177.2 L341.9,176.4 L342.1,175.7 L342.4,174.9 L342.8,174.2 L343.2,173.4 L343.6,172.7 L344.1,171.9 L344.5,171.2 L345.0,170.4 L345.4,169.7 L345.8,168.9 L346.1,168.2 L346.4,167.4 L346.7,166.7 L347.0,165.9 L347.2,165.2 L347.4,164.4 L347.7,163.7 L347.9,162.9 L348.1,162.2 L348.4,161.4 L348.6,160.7 L348.9,159.9 L349.2,159.2 L349.5,158.4 L349.7,157.7 L350.0,156.9 L350.3,156.2 L350.7,155.4 L351.0,154.7 L351.4,153.9 L351.8,153.2 L352.3,152.4 L352.8,151.7 L353.4,150.9 L354.1,150.2 L354.9,149.4 L355.7,148.7 L356.5,147.9 L357.4,147.2 L358.3,146.4 L359.1,145.7 L360.1,144.9 L361.1,144.2 L362.2,143.4 L363.3,142.7 L364.4,141.9 L365.5,141.2 L366.5,140.4 L367.5,139.7 L368.2,138.9 L369.0,138.2 L369.7,137.4 L370.4,136.7 L371.0,135.9 L371.6,135.2 L372.1,134.4 L372.6,133.7 L373.0,132.9 L373.3,132.2 L373.6,131.4 L373.8,130.7 L374.0,129.9 L374.2,129.2 L374.4,128.4 L374.6,127.7 L374.7,127.0 L374.9,126.2 L375.0,125.5 L375.1,124.7 L375.3,124.0 L375.4,123.2 L375.6,122.5 L375.8,121.7 L376.0,121.0 L376.1,120.2 L376.3,119.5 L376.5,118.7 L376.7,118.0 L376.9,117.2 L377.1,116.5 L377.2,115.7 L377.4,115.0 L377.6,114.2 L377.8,113.5 L378.0,112.7Z" fill="#e1812c" stroke="#3f3f3f" stroke-width="1.7" stroke-linejoin="round"/><g stroke="#3f3f3f" stroke-linecap="butt"><line x1="202.5" y1="126" x2="202.5" y2="546.8" stroke-width="1.7"/><line x1="202.5" y1="316" x2="202.5" y2="478.8" stroke-width="5.2"/><line x1="377.6" y1="124" x2="377.6" y2="502.6" stroke-width="1.7"/><line x1="377.6" y1="244.7" x2="377.6" y2="369.2" stroke-width="5.2"/></g><circle cx="202.5" cy="413.3" r="1.3" fill="#fff"/><circle cx="377.6" cy="306.8" r="1.3" fill="#fff"/><rect x="115" y="87" width="350.6" height="501.2" fill="none" stroke="#333" stroke-width="1.1"/><g stroke="#222" stroke-width="1"><line x1="110.8" y1="546.9" x2="115" y2="546.9"/><line x1="110.8" y1="463.2" x2="115" y2="463.2"/><line x1="110.8" y1="379.5" x2="115" y2="379.5"/><line x1="110.8" y1="295.7" x2="115" y2="295.7"/><line x1="110.8" y1="212.0" x2="115" y2="212.0"/><line x1="110.8" y1="128.3" x2="115" y2="128.3"/><line x1="202.5" y1="588.2" x2="202.5" y2="592.6"/><line x1="377.7" y1="588.2" x2="377.7" y2="592.6"/></g><g text-anchor="end"><text x="106.2" y="550.8">0.0</text><text x="106.2" y="467.1">0.1</text><text x="106.2" y="383.4">0.2</text><text x="106.2" y="299.6">0.3</text><text x="106.2" y="215.9">0.4</text><text x="106.2" y="132.2">0.5</text></g><g text-anchor="middle"><text x="203" y="604.9">0</text><text x="378" y="604.9">1</text><text x="289.6" y="622.8">is_duplicate</text><text transform="translate(81.1,338.5) rotate(-90)">word_share</text></g><g fill="#ff0000" fill-opacity="0.4"><rect x="604" y="584.5" width="5" height="3.5"/><rect x="609" y="568.2" width="5" height="19.8"/><rect x="614" y="573.0" width="5" height="15.0"/><rect x="619" y="569.0" width="5" height="19.0"/><rect x="624" y="552.3" width="6" height="35.7"/><rect x="630" y="553.6" width="5" height="34.4"/><rect x="635" y="545.4" width="5" height="42.6"/><rect x="640" y="522.0" width="5" height="66.0"/><rect x="645" y="516.5" width="5" height="71.5"/><rect x="650" y="463.5" width="5" height="124.5"/><rect x="655" y="478.2" width="5" height="109.8"/><rect x="660" y="436.9" width="5" height="151.1"/><rect x="665" y="475.1" width="5" height="112.9"/><rect x="670" y="481.3" width="5" height="106.7"/><rect x="675" y="413.6" width="5" height="174.4"/><rect x="680" y="372.3" width="5" height="215.7"/><rect x="685" y="450.0" width="5" height="138.0"/><rect x="690" y="296.5" width="6" height="291.5"/><rect x="696" y="418.3" width="5" height="169.7"/><rect x="701" y="381.7" width="5" height="206.3"/><rect x="706" y="560.0" width="5" height="28.0"/><rect x="711" y="242.9" width="5" height="345.1"/><rect x="716" y="320.3" width="5" height="267.7"/><rect x="721" y="440.0" width="5" height="148.0"/><rect x="726" y="456.3" width="5" height="131.7"/><rect x="731" y="245.2" width="5" height="342.8"/><rect x="736" y="456.9" width="5" height="131.1"/><rect x="741" y="435.6" width="5" height="152.4"/><rect x="746" y="337.6" width="5" height="250.4"/><rect x="751" y="573.0" width="5" height="15.0"/><rect x="756" y="203.9" width="6" height="384.1"/><rect x="762" y="545.0" width="5" height="43.0"/><rect x="767" y="441.3" width="5" height="146.7"/><rect x="772" y="376.5" width="5" height="211.5"/><rect x="777" y="523.0" width="5" height="65.0"/><rect x="782" y="426.5" width="5" height="161.5"/><rect x="787" y="424.0" width="5" height="164.0"/><rect x="792" y="424.0" width="5" height="164.0"/><rect x="797" y="560.0" width="5" height="28.0"/><rect x="802" y="447.3" width="5" height="140.7"/><rect x="807" y="544.0" width="5" height="44.0"/><rect x="812" y="453.2" width="5" height="134.8"/><rect x="817" y="413.5" width="6" height="174.5"/><rect x="823" y="506.1" width="5" height="81.9"/><rect x="828" y="520.7" width="5" height="67.3"/><rect x="833" y="500.2" width="5" height="87.8"/><rect x="838" y="535.8" width="5" height="52.2"/><rect x="843" y="577.5" width="5" height="10.5"/><rect x="848" y="568.1" width="5" height="19.9"/></g><g fill="#0000ff" fill-opacity="0.4"><rect x="570" y="110.7" width="5" height="477.3"/><rect x="581" y="553.3" width="5" height="34.7"/><rect x="586" y="474.9" width="6" height="113.1"/><rect x="592" y="437.0" width="6" height="151.0"/><rect x="598" y="384.0" width="5" height="204.0"/><rect x="603" y="427.8" width="6" height="160.2"/><rect x="609" y="437.7" width="6" height="150.3"/><rect x="615" y="432.3" width="5" height="155.7"/><rect x="620" y="437.0" width="6" height="151.0"/><rect x="626" y="395.4" width="6" height="192.6"/><rect x="632" y="387.3" width="5" height="200.7"/><rect x="637" y="411.2" width="6" height="176.8"/><rect x="643" y="404.4" width="6" height="183.6"/><rect x="649" y="425.0" width="5" height="163.0"/><rect x="654" y="397.8" width="6" height="190.2"/><rect x="660" y="412.5" width="6" height="175.5"/><rect x="666" y="454.6" width="5" height="133.4"/><rect x="671" y="438.0" width="6" height="150.0"/><rect x="677" y="518.5" width="5" height="69.5"/><rect x="682" y="414.9" width="6" height="173.1"/><rect x="688" y="457.4" width="6" height="130.6"/><rect x="694" y="478.2" width="5" height="109.8"/><rect x="699" y="460.2" width="6" height="127.8"/><rect x="705" y="564.3" width="6" height="23.7"/><rect x="711" y="427.9" width="5" height="160.1"/><rect x="716" y="483.0" width="6" height="105.0"/><rect x="722" y="498.0" width="6" height="90.0"/><rect x="728" y="498.0" width="5" height="90.0"/><rect x="733" y="534.7" width="6" height="53.3"/><rect x="739" y="487.7" width="6" height="100.3"/><rect x="745" y="506.2" width="5" height="81.8"/><rect x="750" y="578.5" width="6" height="9.5"/><rect x="756" y="438.8" width="6" height="149.2"/><rect x="762" y="555.7" width="5" height="32.3"/><rect x="767" y="514.4" width="6" height="73.6"/><rect x="773" y="534.7" width="6" height="53.3"/><rect x="779" y="525.1" width="5" height="62.9"/><rect x="784" y="524.4" width="6" height="63.6"/><rect x="790" y="579.5" width="6" height="8.5"/><rect x="796" y="518.7" width="5" height="69.3"/><rect x="801" y="533.7" width="6" height="54.3"/><rect x="807" y="521.0" width="5" height="67.0"/><rect x="812" y="542.5" width="6" height="45.5"/><rect x="818" y="534.7" width="6" height="53.3"/><rect x="824" y="508.0" width="5" height="80.0"/><rect x="829" y="484.1" width="6" height="103.9"/><rect x="835" y="539.4" width="6" height="48.6"/><rect x="841" y="586.0" width="5" height="2.0"/><rect x="846" y="583.3" width="6" height="4.7"/></g><path d="M584.0,588.0 L585.0,587.9 L586.0,587.8 L587.0,587.7 L588.0,587.6 L589.0,587.5 L590.0,587.4 L591.0,587.3 L592.0,587.2 L593.0,587.1 L594.0,587.0 L595.0,586.8 L596.0,586.7 L596.9,586.5 L597.9,586.2 L598.8,585.9 L599.7,585.5 L600.7,585.1 L601.5,584.6 L602.4,584.0 L603.2,583.4 L604.0,582.8 L604.7,582.1 L605.4,581.4 L606.1,580.7 L606.7,579.9 L607.4,579.1 L608.0,578.4 L608.6,577.6 L609.3,576.8 L609.9,576.1 L610.6,575.3 L611.3,574.6 L612.0,573.8 L612.7,573.1 L613.5,572.5 L614.3,571.9 L615.1,571.4 L616.0,570.9 L616.9,570.4 L617.8,569.9 L618.6,569.4 L619.4,568.8 L620.1,568.1 L620.9,567.4 L621.5,566.7 L622.2,565.9 L622.8,565.1 L623.3,564.2 L623.8,563.4 L624.3,562.5 L624.7,561.6 L625.1,560.6 L625.4,559.7 L625.8,558.8 L626.2,557.8 L626.5,556.9 L626.9,556.0 L627.2,555.0 L627.6,554.1 L627.9,553.1 L628.2,552.2 L628.6,551.3 L628.9,550.3 L629.3,549.4 L629.6,548.5 L630.0,547.5 L630.4,546.6 L630.7,545.7 L631.1,544.7 L631.5,543.8 L631.9,542.9 L632.2,542.0 L632.6,541.0 L633.0,540.1 L633.4,539.2 L633.8,538.3 L634.2,537.4 L634.6,536.4 L635.0,535.5 L635.4,534.6 L635.8,533.7 L636.1,532.8 L636.5,531.8 L636.9,530.9 L637.3,530.0 L637.7,529.1 L638.1,528.1 L638.5,527.2 L638.9,526.3 L639.2,525.4 L639.6,524.5 L640.0,523.5 L640.4,522.6 L640.8,521.7 L641.2,520.8 L641.6,519.9 L642.0,519.0 L642.4,518.0 L642.9,517.1 L643.3,516.2 L643.7,515.3 L644.1,514.4 L644.5,513.5 L645.0,512.6 L645.4,511.7 L645.8,510.8 L646.2,509.9 L646.7,509.0 L647.1,508.1 L647.6,507.2 L648.0,506.3 L648.4,505.4 L648.9,504.5 L649.3,503.6 L649.8,502.7 L650.2,501.8 L650.6,500.9 L651.0,500.0 L651.4,499.0 L651.8,498.1 L652.1,497.2 L652.5,496.3 L652.8,495.3 L653.1,494.4 L653.4,493.4 L653.7,492.5 L654.0,491.5 L654.3,490.6 L654.6,489.6 L654.9,488.6 L655.2,487.7 L655.5,486.7 L655.8,485.8 L656.1,484.8 L656.4,483.8 L656.7,482.9 L657.0,481.9 L657.3,481.0 L657.6,480.0 L657.9,479.1 L658.2,478.1 L658.6,477.2 L658.9,476.2 L659.2,475.3 L659.6,474.4 L659.9,473.4 L660.3,472.5 L660.7,471.6 L661.0,470.6 L661.4,469.7 L661.8,468.8 L662.1,467.8 L662.5,466.9 L662.9,466.0 L663.2,465.1 L663.6,464.1 L664.0,463.2 L664.3,462.3 L664.7,461.3 L665.1,460.4 L665.4,459.5 L665.8,458.5 L666.1,457.6 L666.5,456.7 L666.8,455.7 L667.1,454.8 L667.4,453.8 L667.8,452.9 L668.1,451.9 L668.4,451.0 L668.7,450.0 L669.0,449.1 L669.4,448.1 L669.7,447.2 L670.0,446.2 L670.3,445.3 L670.6,444.3 L670.9,443.4 L671.2,442.4 L671.5,441.5 L671.8,440.5 L672.1,439.6 L672.5,438.6 L672.8,437.7 L673.1,436.7 L673.4,435.8 L673.7,434.8 L674.0,433.9 L674.3,432.9 L674.6,432.0 L674.9,431.0 L675.2,430.1 L675.6,429.1 L675.9,428.2 L676.2,427.2 L676.5,426.3 L676.8,425.3 L677.1,424.4 L677.5,423.4 L677.8,422.5 L678.1,421.5 L678.5,420.6 L678.8,419.7 L679.1,418.7 L679.5,417.8 L679.8,416.8 L680.2,415.9 L680.5,415.0 L680.9,414.0 L681.2,413.1 L681.6,412.1 L681.9,411.2 L682.3,410.3 L682.7,409.3 L683.0,408.4 L683.4,407.5 L683.8,406.6 L684.2,405.7 L684.6,404.7 L685.0,403.8 L685.4,402.9 L685.8,402.0 L686.2,401.1 L686.6,400.2 L687.0,399.3 L687.5,398.4 L687.9,397.5 L688.4,396.6 L688.9,395.7 L689.4,394.8 L689.9,394.0 L690.5,393.2 L691.1,392.3 L691.7,391.5 L692.4,390.7 L693.1,389.9 L693.8,389.2 L694.6,388.6 L695.4,388.1 L696.2,387.7 L697.1,387.3 L698.1,387.1 L699.1,386.8 L700.1,386.5 L701.0,386.2 L702.0,385.8 L702.9,385.3 L703.8,384.8 L704.4,384.2 L705.0,383.4 L705.5,382.6 L705.9,381.7 L706.4,380.8 L706.8,379.8 L707.3,378.9 L707.8,378.0 L708.5,377.1 L709.3,376.2 L710.0,375.5 L710.8,375.1 L711.6,375.2 L712.3,375.7 L713.0,376.4 L713.6,377.4 L714.2,378.4 L714.8,379.5 L715.4,380.6 L715.9,381.6 L716.4,382.6 L717.0,383.3 L717.7,383.6 L718.4,383.4 L719.3,382.9 L720.2,382.3 L721.1,381.7 L722.0,381.2 L723.0,380.8 L723.9,380.5 L724.9,380.4 L725.8,380.6 L726.8,380.9 L727.7,381.4 L728.6,381.9 L729.4,382.5 L730.2,383.1 L730.9,383.8 L731.6,384.6 L732.2,385.3 L732.8,386.2 L733.4,387.0 L733.9,387.9 L734.5,388.7 L734.9,389.7 L735.4,390.6 L735.9,391.5 L736.4,392.4 L737.0,393.2 L737.7,393.8 L738.6,394.2 L739.5,394.6 L740.5,394.9 L741.4,395.3 L742.2,395.8 L742.9,396.5 L743.5,397.3 L744.0,398.3 L744.5,399.2 L744.9,400.1 L745.2,401.1 L745.5,402.0 L745.8,403.0 L746.1,404.0 L746.3,405.0 L746.6,405.9 L746.8,406.9 L747.0,407.9 L747.2,408.8 L747.4,409.8 L747.5,410.7 L747.7,411.7 L747.9,412.6 L748.0,413.6 L748.2,414.6 L748.4,415.6 L748.6,416.6 L748.8,417.7 L749.1,418.9 L749.4,420.1 L749.8,421.3 L750.2,422.3 L750.5,423.1 L750.9,423.5 L751.3,423.4 L751.7,423.0 L752.1,422.3 L752.5,421.3 L752.9,420.1 L753.3,418.9 L753.6,417.6 L753.9,416.4 L754.2,415.3 L754.4,414.2 L754.6,413.2 L754.8,412.2 L754.9,411.2 L755.1,410.3 L755.2,409.4 L755.4,408.4 L755.6,407.5 L755.8,406.5 L756.1,405.5 L756.5,404.5 L756.9,403.4 L757.4,402.4 L757.9,401.7 L758.3,401.6 L758.6,401.9 L758.9,402.7 L759.2,403.7 L759.5,404.8 L759.8,406.2 L760.0,407.5 L760.2,408.8 L760.4,410.0 L760.6,411.2 L760.8,412.3 L761.0,413.4 L761.1,414.4 L761.3,415.5 L761.4,416.5 L761.6,417.4 L761.7,418.4 L761.9,419.3 L762.0,420.3 L762.1,421.2 L762.2,422.1 L762.3,423.0 L762.4,424.0 L762.5,424.9 L762.6,425.8 L762.7,426.8 L762.8,427.7 L762.9,428.7 L762.9,429.7 L763.0,430.7 L763.1,431.8 L763.2,432.8 L763.3,433.8 L763.5,434.8 L763.8,435.8 L764.1,436.8 L764.4,437.7 L764.9,438.6 L765.5,439.5 L766.3,440.2 L766.9,440.4 L767.3,440.1 L767.7,439.5 L768.0,438.5 L768.3,437.4 L768.7,436.1 L769.0,434.8 L769.4,433.6 L769.9,432.5 L770.5,431.5 L771.2,430.6 L771.9,430.1 L772.5,430.1 L773.1,430.7 L773.5,431.6 L774.0,432.7 L774.4,433.9 L774.8,435.0 L775.1,436.0 L775.4,437.0 L775.7,438.0 L776.0,439.0 L776.2,439.9 L776.5,440.9 L776.8,441.8 L777.0,442.7 L777.3,443.6 L777.6,444.5 L778.0,445.4 L778.3,446.3 L778.7,447.2 L779.0,448.2 L779.4,449.1 L779.8,450.0 L780.2,450.9 L780.7,451.8 L781.1,452.8 L781.6,453.7 L782.0,454.6 L782.5,455.5 L783.0,456.3 L783.5,457.2 L784.0,458.1 L784.5,458.9 L785.1,459.7 L785.7,460.6 L786.2,461.4 L786.8,462.2 L787.4,463.0 L788.0,463.8 L788.6,464.6 L789.2,465.4 L789.8,466.2 L790.4,467.0 L791.0,467.8 L791.6,468.6 L792.3,469.4 L792.9,470.1 L793.5,470.9 L794.2,471.7 L794.8,472.5 L795.5,473.3 L796.1,474.1 L796.8,474.8 L797.6,475.5 L798.3,476.2 L799.1,476.7 L799.9,477.2 L800.9,477.6 L801.8,478.0 L802.8,478.2 L803.8,478.3 L804.7,478.2 L805.7,477.9 L806.6,477.5 L807.5,477.0 L808.5,476.5 L809.4,476.1 L810.4,475.7 L811.3,475.3 L812.3,475.0 L813.2,474.9 L814.2,475.0 L815.1,475.4 L816.0,476.0 L816.8,476.6 L817.4,477.3 L818.0,478.1 L818.4,479.0 L818.8,480.0 L819.2,481.0 L819.6,481.9 L820.0,482.9 L820.3,483.8 L820.7,484.7 L821.0,485.7 L821.3,486.6 L821.7,487.5 L822.0,488.5 L822.4,489.4 L822.8,490.3 L823.1,491.3 L823.5,492.2 L823.9,493.2 L824.3,494.1 L824.8,495.0 L825.2,495.8 L825.8,496.7 L826.4,497.5 L827.0,498.2 L827.7,498.9 L828.4,499.7 L829.1,500.4 L829.8,501.1 L830.4,501.9 L831.0,502.7 L831.6,503.5 L832.1,504.4 L832.6,505.3 L833.0,506.2 L833.3,507.1 L833.7,508.0 L833.9,509.0 L834.2,510.0 L834.4,511.0 L834.6,512.0 L834.9,512.9 L835.1,513.9 L835.3,514.9 L835.5,515.9 L835.7,516.8 L835.9,517.8 L836.1,518.8 L836.3,519.8 L836.6,520.7 L836.8,521.7 L837.0,522.7 L837.1,523.7 L837.3,524.7 L837.5,525.6 L837.7,526.6 L837.9,527.6 L838.1,528.6 L838.3,529.6 L838.5,530.6 L838.6,531.5 L838.8,532.5 L839.0,533.5 L839.2,534.5 L839.4,535.5 L839.5,536.5 L839.7,537.5 L839.9,538.4 L840.0,539.4 L840.2,540.4 L840.4,541.4 L840.5,542.4 L840.7,543.4 L840.8,544.4 L841.0,545.3 L841.2,546.3 L841.4,547.3 L841.5,548.3 L841.7,549.3 L841.9,550.3 L842.1,551.3 L842.2,552.2 L842.4,553.2 L842.6,554.2 L842.8,555.2 L843.0,556.2 L843.2,557.2 L843.4,558.1 L843.6,559.1 L843.8,560.1 L844.0,561.1 L844.2,562.0 L844.4,563.0 L844.7,564.0 L844.9,565.0 L845.1,565.9 L845.4,566.9 L845.6,567.9 L845.9,568.8 L846.2,569.8 L846.5,570.7 L846.9,571.7 L847.2,572.7 L847.7,573.6 L848.2,574.5 L848.8,575.2 L849.5,575.8 L850.4,576.3 L851.3,576.9 L852.1,577.4 L852.9,578.1 L853.6,578.7 L854.3,579.4 L855.0,580.2 L855.7,580.9 L856.3,581.7 L856.9,582.5 L857.5,583.3 L858.2,584.0 L858.9,584.7 L859.7,585.4 L860.5,586.0 L861.4,586.5 L862.3,586.9 L863.2,587.1 L864.2,587.3 L865.2,587.5 L866.2,587.6 L867.2,587.7 L868.3,587.7 L869.3,587.8 L870.3,587.9 L871.2,587.9 L872.0,588.0" fill="none" stroke="#ff0d0d" stroke-width="2" stroke-linejoin="round"/><path d="M547.5,588.0 L548.4,587.5 L549.3,586.9 L550.1,586.3 L550.9,585.7 L551.5,585.0 L552.0,584.3 L552.5,583.5 L552.9,582.6 L553.4,581.7 L553.7,580.8 L554.1,579.9 L554.4,578.9 L554.7,577.9 L555.0,576.9 L555.2,575.9 L555.5,574.9 L555.7,573.8 L555.9,572.8 L556.0,571.8 L556.2,570.7 L556.4,569.7 L556.5,568.7 L556.7,567.7 L556.8,566.7 L557.0,565.7 L557.1,564.7 L557.3,563.7 L557.4,562.7 L557.6,561.7 L557.7,560.7 L557.8,559.7 L558.0,558.7 L558.1,557.7 L558.2,556.7 L558.3,555.8 L558.4,554.8 L558.6,553.8 L558.7,552.8 L558.8,551.8 L558.9,550.8 L559.0,549.8 L559.1,548.8 L559.2,547.8 L559.3,546.8 L559.4,545.9 L559.5,544.9 L559.6,543.9 L559.7,542.9 L559.8,541.9 L559.9,540.9 L560.0,540.0 L560.1,539.0 L560.2,538.0 L560.3,537.0 L560.4,536.0 L560.5,535.0 L560.6,534.1 L560.6,533.1 L560.7,532.1 L560.8,531.1 L560.9,530.1 L561.0,529.1 L561.1,528.1 L561.1,527.1 L561.2,526.2 L561.3,525.2 L561.4,524.2 L561.5,523.2 L561.5,522.2 L561.6,521.2 L561.7,520.2 L561.8,519.2 L561.8,518.2 L561.9,517.2 L562.0,516.2 L562.1,515.2 L562.1,514.2 L562.2,513.2 L562.3,512.2 L562.3,511.2 L562.4,510.2 L562.5,509.2 L562.5,508.2 L562.6,507.2 L562.7,506.2 L562.8,505.2 L562.8,504.2 L562.9,503.2 L563.0,502.2 L563.0,501.2 L563.1,500.2 L563.2,499.2 L563.2,498.2 L563.3,497.2 L563.4,496.2 L563.4,495.2 L563.5,494.2 L563.6,493.1 L563.7,492.1 L563.7,491.1 L563.8,490.1 L563.9,489.1 L563.9,488.1 L564.0,487.1 L564.1,486.0 L564.2,485.0 L564.2,484.0 L564.3,483.0 L564.4,482.0 L564.4,480.9 L564.5,479.9 L564.6,478.9 L564.6,477.9 L564.7,476.9 L564.8,475.9 L564.9,474.8 L564.9,473.8 L565.0,472.8 L565.1,471.8 L565.1,470.8 L565.2,469.8 L565.3,468.8 L565.3,467.8 L565.4,466.8 L565.5,465.8 L565.5,464.8 L565.6,463.8 L565.7,462.8 L565.7,461.8 L565.8,460.9 L565.9,459.9 L565.9,458.9 L566.0,457.9 L566.0,457.0 L566.1,456.0 L566.1,455.0 L566.2,454.1 L566.3,453.1 L566.3,452.2 L566.4,451.3 L566.4,450.3 L566.5,449.4 L566.5,448.5 L566.6,447.5 L566.6,446.6 L566.7,445.7 L566.7,444.7 L566.7,443.8 L566.8,442.9 L566.8,441.9 L566.9,441.0 L566.9,440.0 L567.0,439.1 L567.0,438.1 L567.1,437.2 L567.2,436.2 L567.2,435.2 L567.3,434.2 L567.3,433.2 L567.4,432.2 L567.5,431.1 L567.6,430.1 L567.7,429.0 L567.7,427.9 L567.8,426.8 L567.9,425.7 L568.0,424.6 L568.2,423.5 L568.3,422.3 L568.4,421.1 L568.5,419.8 L568.7,418.5 L568.9,417.2 L569.0,415.9 L569.2,414.7 L569.4,413.7 L569.6,412.8 L569.8,412.2 L570.0,411.8 L570.2,411.7 L570.3,412.0 L570.5,412.5 L570.7,413.3 L570.9,414.3 L571.1,415.4 L571.3,416.6 L571.4,417.9 L571.6,419.3 L571.7,420.6 L571.9,421.8 L572.0,423.0 L572.1,424.1 L572.2,425.3 L572.3,426.4 L572.4,427.5 L572.5,428.6 L572.6,429.6 L572.7,430.7 L572.7,431.7 L572.8,432.7 L572.9,433.7 L572.9,434.7 L573.0,435.7 L573.1,436.7 L573.1,437.7 L573.2,438.6 L573.2,439.6 L573.3,440.5 L573.3,441.5 L573.4,442.4 L573.4,443.4 L573.5,444.3 L573.5,445.2 L573.6,446.2 L573.6,447.1 L573.7,448.0 L573.7,449.0 L573.8,449.9 L573.8,450.8 L573.9,451.8 L573.9,452.7 L574.0,453.7 L574.1,454.7 L574.1,455.6 L574.2,456.6 L574.3,457.6 L574.3,458.6 L574.4,459.5 L574.5,460.5 L574.6,461.5 L574.6,462.5 L574.7,463.5 L574.8,464.5 L574.8,465.5 L574.9,466.6 L575.0,467.6 L575.1,468.6 L575.2,469.6 L575.2,470.6 L575.3,471.6 L575.4,472.7 L575.5,473.7 L575.5,474.7 L575.6,475.7 L575.7,476.7 L575.8,477.8 L575.9,478.8 L576.0,479.8 L576.0,480.8 L576.1,481.8 L576.2,482.9 L576.3,483.9 L576.4,484.9 L576.4,485.9 L576.5,486.9 L576.6,487.9 L576.7,488.9 L576.8,489.9 L576.9,490.9 L576.9,491.9 L577.0,492.9 L577.1,493.9 L577.2,494.8 L577.3,495.8 L577.3,496.8 L577.4,497.7 L577.5,498.7 L577.6,499.6 L577.6,500.6 L577.7,501.5 L577.8,502.5 L577.9,503.4 L578.0,504.4 L578.0,505.3 L578.1,506.2 L578.2,507.2 L578.3,508.2 L578.4,509.1 L578.6,510.1 L578.7,511.1 L578.9,512.1 L579.0,513.1 L579.2,514.2 L579.4,515.2 L579.6,516.3 L579.9,517.4 L580.1,518.5 L580.5,519.8 L580.8,521.0 L581.2,522.1 L581.6,522.9 L582.0,523.4 L582.3,523.3 L582.7,522.8 L583.0,521.9 L583.4,520.8 L583.7,519.6 L583.9,518.3 L584.2,517.1 L584.4,515.9 L584.6,514.8 L584.8,513.8 L585.0,512.7 L585.1,511.7 L585.3,510.7 L585.4,509.7 L585.5,508.8 L585.6,507.8 L585.8,506.9 L585.9,506.0 L586.0,505.0 L586.1,504.1 L586.2,503.2 L586.3,502.2 L586.5,501.3 L586.6,500.3 L586.7,499.4 L586.9,498.4 L587.0,497.5 L587.1,496.5 L587.3,495.5 L587.4,494.5 L587.5,493.5 L587.7,492.5 L587.8,491.5 L588.0,490.5 L588.1,489.5 L588.2,488.5 L588.4,487.5 L588.5,486.5 L588.7,485.5 L588.8,484.5 L588.9,483.5 L589.1,482.5 L589.2,481.4 L589.3,480.4 L589.5,479.4 L589.6,478.4 L589.7,477.4 L589.9,476.4 L590.0,475.4 L590.1,474.4 L590.2,473.4 L590.4,472.4 L590.5,471.4 L590.6,470.4 L590.7,469.4 L590.8,468.5 L591.0,467.5 L591.1,466.5 L591.2,465.5 L591.3,464.5 L591.4,463.5 L591.6,462.5 L591.7,461.5 L591.8,460.5 L591.9,459.6 L592.0,458.6 L592.2,457.6 L592.3,456.6 L592.4,455.6 L592.6,454.6 L592.7,453.6 L592.8,452.6 L593.0,451.7 L593.1,450.7 L593.2,449.7 L593.4,448.7 L593.5,447.7 L593.7,446.7 L593.9,445.7 L594.0,444.7 L594.2,443.7 L594.3,442.7 L594.5,441.7 L594.7,440.7 L594.8,439.8 L595.0,438.8 L595.2,437.8 L595.4,436.8 L595.6,435.9 L595.8,434.9 L596.0,433.9 L596.2,433.0 L596.4,432.0 L596.6,431.1 L596.9,430.1 L597.1,429.1 L597.4,428.2 L597.7,427.2 L598.0,426.2 L598.3,425.3 L598.7,424.3 L599.1,423.3 L599.5,422.3 L600.0,421.3 L600.6,420.3 L601.2,419.4 L601.9,418.8 L602.7,418.6 L603.5,418.6 L604.4,418.9 L605.4,419.3 L606.4,419.9 L607.3,420.4 L608.3,421.0 L609.2,421.6 L610.1,422.2 L610.9,422.8 L611.8,423.3 L612.7,423.6 L613.6,423.8 L614.5,423.8 L615.4,423.5 L616.3,423.2 L617.2,422.7 L618.1,422.1 L619.0,421.5 L619.8,420.8 L620.6,420.2 L621.3,419.4 L622.0,418.7 L622.6,417.9 L623.2,417.1 L623.8,416.3 L624.4,415.5 L625.0,414.7 L625.7,414.0 L626.4,413.2 L627.0,412.5 L627.8,411.8 L628.5,411.1 L629.2,410.4 L630.0,409.7 L630.8,409.1 L631.7,408.6 L632.5,408.1 L633.4,407.7 L634.3,407.3 L635.3,407.0 L636.3,406.7 L637.3,406.6 L638.3,406.5 L639.3,406.5 L640.3,406.6 L641.3,406.8 L642.3,407.0 L643.3,407.3 L644.2,407.6 L645.1,408.0 L646.0,408.4 L646.8,409.0 L647.6,409.7 L648.3,410.3 L649.1,411.0 L649.8,411.7 L650.5,412.4 L651.2,413.1 L651.8,413.9 L652.5,414.7 L653.1,415.4 L653.7,416.2 L654.4,417.0 L655.0,417.8 L655.6,418.6 L656.2,419.4 L656.8,420.2 L657.4,421.0 L658.0,421.8 L658.6,422.6 L659.2,423.4 L659.8,424.2 L660.4,425.0 L661.0,425.8 L661.6,426.6 L662.2,427.4 L662.8,428.2 L663.4,429.0 L664.0,429.8 L664.6,430.6 L665.2,431.4 L665.8,432.2 L666.4,433.0 L667.0,433.8 L667.6,434.6 L668.2,435.4 L668.8,436.2 L669.4,437.0 L670.0,437.8 L670.6,438.6 L671.2,439.4 L671.8,440.2 L672.4,441.0 L673.0,441.8 L673.6,442.6 L674.2,443.4 L674.8,444.2 L675.4,445.0 L676.0,445.8 L676.6,446.6 L677.2,447.4 L677.8,448.2 L678.4,449.0 L679.0,449.8 L679.6,450.6 L680.2,451.4 L680.8,452.2 L681.4,453.0 L682.0,453.8 L682.6,454.6 L683.2,455.4 L683.8,456.2 L684.4,457.0 L685.1,457.8 L685.7,458.5 L686.3,459.3 L687.0,460.1 L687.6,460.9 L688.2,461.6 L688.9,462.4 L689.5,463.2 L690.1,464.0 L690.7,464.7 L691.4,465.5 L692.0,466.3 L692.6,467.1 L693.2,467.9 L693.8,468.7 L694.4,469.5 L694.9,470.3 L695.5,471.2 L696.1,472.0 L696.6,472.8 L697.2,473.6 L697.8,474.5 L698.4,475.3 L699.0,476.1 L699.5,476.9 L700.2,477.7 L700.8,478.5 L701.4,479.3 L702.0,480.0 L702.7,480.8 L703.4,481.5 L704.1,482.2 L704.8,482.9 L705.5,483.6 L706.3,484.2 L707.2,484.7 L708.0,485.3 L708.8,485.9 L709.7,486.4 L710.5,487.0 L711.2,487.6 L712.0,488.3 L712.8,488.9 L713.5,489.6 L714.3,490.3 L715.0,490.9 L715.8,491.6 L716.5,492.3 L717.3,492.9 L718.0,493.6 L718.8,494.2 L719.6,494.8 L720.4,495.4 L721.2,495.9 L722.1,496.5 L723.0,497.0 L723.9,497.5 L724.7,497.9 L725.6,498.4 L726.5,498.9 L727.4,499.4 L728.3,499.8 L729.1,500.3 L730.0,500.9 L730.8,501.4 L731.6,501.9 L732.4,502.5 L733.2,503.1 L733.9,503.7 L734.7,504.4 L735.4,505.0 L736.1,505.7 L736.8,506.4 L737.6,507.1 L738.3,507.8 L739.0,508.5 L739.7,509.3 L740.4,510.0 L741.1,510.8 L741.9,511.6 L742.6,512.5 L743.3,513.3 L744.1,514.2 L744.8,515.0 L745.6,515.8 L746.4,516.5 L747.2,517.1 L748.0,517.5 L748.8,517.8 L749.7,517.9 L750.6,517.8 L751.5,517.4 L752.4,517.0 L753.4,516.4 L754.4,515.8 L755.3,515.2 L756.2,514.8 L757.1,514.5 L757.8,514.4 L758.6,514.6 L759.2,515.1 L759.8,515.7 L760.4,516.5 L761.0,517.4 L761.6,518.4 L762.1,519.5 L762.7,520.5 L763.3,521.5 L763.9,522.4 L764.6,523.2 L765.4,523.9 L766.2,524.4 L767.1,524.7 L768.0,525.1 L769.0,525.3 L770.0,525.6 L771.0,525.8 L772.0,526.0 L773.0,526.3 L774.0,526.6 L774.9,526.9 L775.9,527.3 L776.8,527.7 L777.7,528.1 L778.6,528.5 L779.5,528.9 L780.4,529.4 L781.2,529.9 L782.0,530.5 L782.8,531.1 L783.6,531.7 L784.3,532.4 L785.1,533.0 L785.9,533.7 L786.6,534.3 L787.4,535.0 L788.2,535.6 L789.0,536.2 L789.9,536.7 L790.8,537.2 L791.6,537.8 L792.6,538.3 L793.5,538.7 L794.5,539.2 L795.4,539.6 L796.4,539.9 L797.4,540.1 L798.3,540.3 L799.3,540.4 L800.2,540.4 L801.1,540.2 L802.1,540.0 L803.0,539.6 L803.9,539.2 L804.8,538.7 L805.7,538.1 L806.6,537.5 L807.4,536.9 L808.2,536.2 L809.0,535.6 L809.8,534.9 L810.6,534.3 L811.3,533.6 L812.0,532.9 L812.7,532.1 L813.4,531.4 L814.0,530.6 L814.6,529.8 L815.3,529.0 L815.9,528.2 L816.5,527.4 L817.1,526.6 L817.7,525.8 L818.2,525.0 L818.8,524.2 L819.4,523.3 L819.9,522.5 L820.5,521.7 L821.0,520.9 L821.5,520.0 L822.0,519.1 L822.6,518.3 L823.1,517.5 L823.7,516.6 L824.3,515.8 L825.0,515.1 L825.7,514.3 L826.4,513.7 L827.3,513.0 L828.2,512.4 L829.1,511.9 L830.0,511.8 L830.7,512.1 L831.4,512.7 L832.0,513.6 L832.6,514.6 L833.1,515.7 L833.5,516.7 L833.8,517.7 L834.2,518.7 L834.5,519.7 L834.7,520.7 L835.0,521.6 L835.2,522.6 L835.4,523.6 L835.6,524.6 L835.7,525.6 L835.9,526.5 L836.1,527.5 L836.2,528.5 L836.4,529.4 L836.5,530.4 L836.7,531.3 L836.8,532.3 L837.0,533.3 L837.1,534.3 L837.3,535.2 L837.4,536.2 L837.6,537.2 L837.7,538.2 L837.9,539.2 L838.0,540.2 L838.2,541.2 L838.3,542.2 L838.5,543.2 L838.6,544.2 L838.8,545.2 L838.9,546.2 L839.1,547.1 L839.2,548.1 L839.4,549.1 L839.5,550.1 L839.7,551.1 L839.8,552.1 L840.0,553.1 L840.1,554.1 L840.3,555.1 L840.4,556.1 L840.6,557.1 L840.8,558.1 L840.9,559.0 L841.1,560.0 L841.3,561.0 L841.4,562.0 L841.6,563.0 L841.8,564.0 L842.0,564.9 L842.2,565.9 L842.4,566.9 L842.6,567.9 L842.8,568.8 L843.0,569.8 L843.3,570.8 L843.5,571.8 L843.8,572.7 L844.0,573.7 L844.3,574.7 L844.6,575.6 L844.9,576.6 L845.2,577.5 L845.5,578.5 L845.9,579.4 L846.2,580.4 L846.7,581.3 L847.1,582.2 L847.6,583.0 L848.2,583.8 L848.9,584.6 L849.6,585.4 L850.4,586.0 L851.3,586.4 L852.2,586.7 L853.1,587.0 L854.1,587.2 L855.1,587.3 L856.2,587.4 L857.2,587.4 L858.2,587.4 L859.3,587.4 L860.3,587.3 L861.4,587.3 L862.4,587.3 L863.5,587.2 L864.5,587.2 L865.5,587.2 L866.5,587.2 L867.5,587.3 L868.4,587.4 L869.4,587.5 L870.3,587.7 L871.0,587.9" fill="none" stroke="#0d0dff" stroke-width="2" stroke-linejoin="round"/><rect x="536" y="87" width="351.7" height="501.2" fill="none" stroke="#333" stroke-width="1.1"/><g stroke="#222" stroke-width="1"><line x1="531.8" y1="588.2" x2="536" y2="588.2"/><line x1="531.8" y1="479.2" x2="536" y2="479.2"/><line x1="531.8" y1="370.3" x2="536" y2="370.3"/><line x1="531.8" y1="261.3" x2="536" y2="261.3"/><line x1="531.8" y1="152.4" x2="536" y2="152.4"/><line x1="570.0" y1="588.2" x2="570.0" y2="592.6"/><line x1="626.5" y1="588.2" x2="626.5" y2="592.6"/><line x1="683.0" y1="588.2" x2="683.0" y2="592.6"/><line x1="739.6" y1="588.2" x2="739.6" y2="592.6"/><line x1="796.1" y1="588.2" x2="796.1" y2="592.6"/><line x1="852.6" y1="588.2" x2="852.6" y2="592.6"/></g><g text-anchor="end"><text x="528.6" y="592.1">0</text><text x="528.6" y="483.1">2</text><text x="528.6" y="374.2">4</text><text x="528.6" y="265.2">6</text><text x="528.6" y="156.3">8</text></g><g text-anchor="middle"><text x="570.0" y="604.9">0.0</text><text x="626.5" y="604.9">0.1</text><text x="683.0" y="604.9">0.2</text><text x="739.6" y="604.9">0.3</text><text x="796.1" y="604.9">0.4</text><text x="852.6" y="604.9">0.5</text><text x="710.6" y="622.8">word_share</text><text transform="translate(513.2,339.6) rotate(-90)">Density</text></g></svg>
</body></html>
